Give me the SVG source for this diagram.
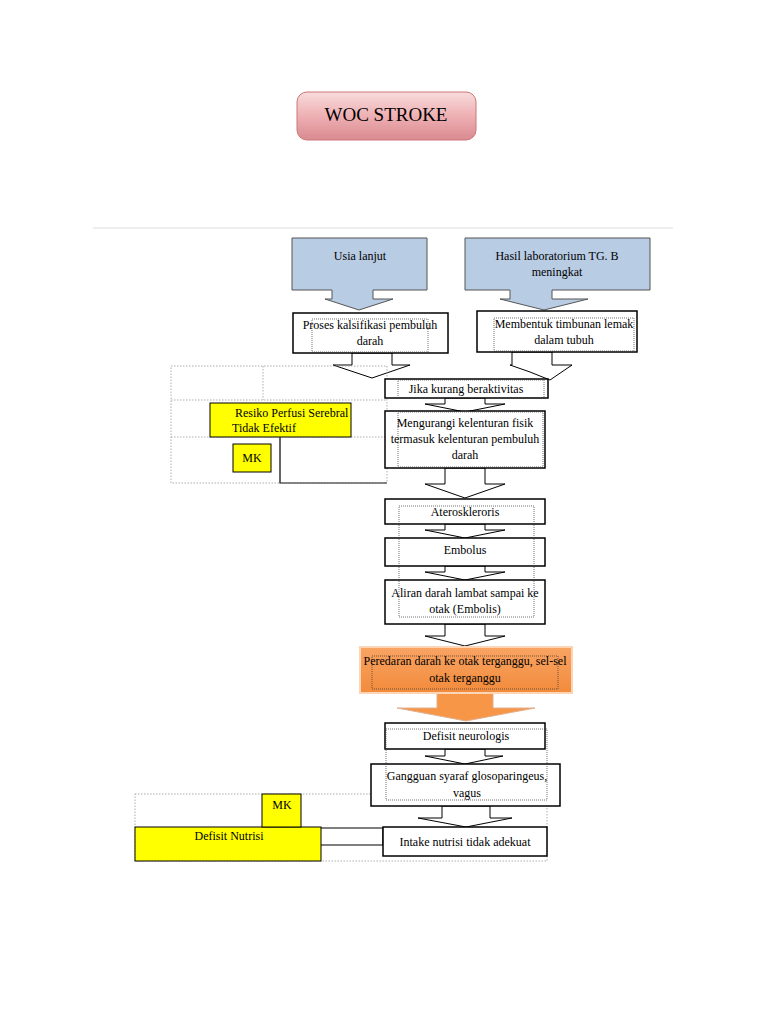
<svg xmlns="http://www.w3.org/2000/svg" width="768" height="1024" viewBox="0 0 768 1024">
<defs>
<linearGradient id="pink" x1="0" y1="0" x2="0" y2="1"><stop offset="0" stop-color="#f8dcdc"/><stop offset="0.5" stop-color="#eeb0b3"/><stop offset="1" stop-color="#d98a90"/></linearGradient>
<linearGradient id="orange" x1="0" y1="0" x2="0" y2="1"><stop offset="0" stop-color="#f9a463"/><stop offset="1" stop-color="#f28b3c"/></linearGradient>
</defs>
<style>
text{font-family:"Liberation Serif",serif;font-size:12px;fill:#000;text-anchor:middle}
.box{fill:#fff;stroke:#000;stroke-width:1.5}
.blue{fill:#b8cce4;stroke:#555;stroke-width:1}
.arr{fill:#fff;stroke:#000;stroke-width:1}
.yel{fill:#ffff00;stroke:#000;stroke-width:1}
.dot{fill:none;stroke:#999;stroke-width:0.8;stroke-dasharray:1.5 1.5}
.tf{fill:none;stroke:#333;stroke-width:0.7;stroke-dasharray:1 1}
</style>
<rect width="768" height="1024" fill="#fff"/>
<g id="title"><rect x="297" y="92" width="179" height="48" rx="10" fill="url(#pink)" stroke="#c77" stroke-width="1"/><text x="386" y="121" style="font-size:19px">WOC STROKE</text></g>
<line x1="93" y1="228" x2="673" y2="228" stroke="#ddd" stroke-width="1"/>
<g id="connectors">
<polygon class="arr" points="352,353 392,353 392,365 410,365 372,378 333,365 352,365"/>
<polygon class="arr" points="512,352 552,352 552,365 572,365 550,380 530,372 510,365 512,365"/>
<polygon class="arr" points="445,398 485,398 485,404 505,404 465,412 425,404 445,404"/>
<polygon class="arr" points="445,468 485,468 485,484 505,484 465,498 425,484 445,484"/>
<polygon class="arr" points="445,524 485,524 485,530 505,530 465,538 425,530 445,530"/>
<polygon class="arr" points="445,566 485,566 485,572 505,572 465,580 425,572 445,572"/>
<polygon class="arr" points="445,624 485,624 485,636 505,636 465,646 425,636 445,636"/>
<polygon points="437,693 493,693 493,708 535,708 466,721 397,708 437,708" fill="#f79646" stroke="#e0b090" stroke-width="1"/>
<polygon class="arr" points="445,749 485,749 485,756 503,756 465,764 425,756 445,756"/>
<polygon class="arr" points="442,806 490,806 490,818 512,818 466,827 418,818 442,818"/>
<polyline points="280,437 280,483 387,483" fill="none" stroke="#000" stroke-width="1.2"/>
<polyline points="321,828 383,828 383,845 321,845" fill="none" stroke="#000" stroke-width="1.2"/>
</g>
<g id="table1"><rect class="dot" x="171" y="366" width="216" height="117"/><line class="dot" x1="171" y1="400" x2="387" y2="400"/><line class="dot" x1="171" y1="437" x2="387" y2="437"/><line class="dot" x1="263" y1="366" x2="263" y2="400"/></g>
<g id="table2"><rect class="dot" x="135" y="794" width="412" height="67"/></g>
<g id="usia"><path class="blue" d="M292,238 H427 V290 H373 V299 H393 L359,310 L325,299 H332 V290 H292 Z"/><text x="360" y="260">Usia lanjut</text></g>
<g id="hasil"><path class="blue" d="M465,238 H650 V290 H552 V299 H588 L544,310 L500,299 H510 V290 H465 Z"/><text x="557" y="260">Hasil laboratorium TG. B</text><text x="557" y="276">meningkat</text></g>
<g id="proses"><rect class="box" x="293" y="313" width="155" height="40"/><rect class="tf" x="312" y="319" width="116" height="33"/><text x="370" y="329">Proses kalsifikasi pembuluh</text><text x="370" y="345">darah</text></g>
<g id="membentuk"><rect class="box" x="477" y="311" width="160" height="41"/><rect class="tf" x="494" y="318" width="140" height="33"/><text x="564" y="328">Membentuk timbunan lemak</text><text x="564" y="344">dalam tubuh</text></g>
<g id="jika"><rect class="box" x="385" y="379" width="163" height="19"/><rect class="tf" x="398" y="380" width="146" height="18"/><text x="466" y="393">Jika kurang beraktivitas</text></g>
<g id="mengurangi"><rect class="box" x="385" y="411" width="160" height="57"/><rect class="tf" x="398" y="412" width="145" height="55"/><text x="465" y="427">Mengurangi  kelenturan fisik</text><text x="465" y="443">termasuk kelenturan pembuluh</text><text x="465" y="459">darah</text></g>
<g id="resiko"><rect class="yel" x="210" y="403" width="141" height="34"/><text x="235" y="417" style="text-anchor:start">Resiko Perfusi Serebral</text><text x="232" y="432" style="text-anchor:start">Tidak Efektif</text></g>
<g id="mk1"><rect class="yel" x="233" y="444" width="38" height="28"/><text x="252" y="462">MK</text></g>
<g id="athero"><rect class="box" x="385" y="499" width="160" height="25"/><text x="465" y="516">Ateroskleroris</text></g>
<g id="embolus"><rect class="box" x="385" y="538" width="160" height="28"/><text x="465" y="554">Embolus</text></g>
<g id="aliran"><rect class="box" x="385" y="580" width="160" height="44"/><text x="465" y="597">Aliran darah lambat sampai ke</text><text x="465" y="613">otak (Embolis)</text></g>
<rect class="tf" x="399" y="506" width="135" height="111"/>
<g id="peredaran"><rect x="360" y="647" width="212" height="46" fill="url(#orange)" stroke="#fbd5b5" stroke-width="2"/><rect class="tf" x="372" y="656" width="186" height="33"/><text x="465" y="665">Peredaran darah ke otak terganggu, sel-sel</text><text x="465" y="682">otak terganggu</text></g>
<g id="defisitneuro"><rect class="box" x="385" y="723" width="160" height="26"/><text x="466" y="740">Defisit neurologis</text></g>
<g id="gangguan"><rect class="box" x="371" y="764" width="189" height="42"/><text x="467" y="780">Gangguan syaraf  glosoparingeus,</text><text x="467" y="797">vagus</text></g>
<rect class="tf" x="386" y="729" width="161" height="71"/>
<g id="intake"><rect class="box" x="383" y="827" width="164" height="29"/><text x="465" y="846">Intake nutrisi tidak adekuat</text></g>
<g id="defisitnutrisi"><rect class="yel" x="135" y="827" width="186" height="34"/><text x="229" y="840">Defisit Nutrisi</text></g>
<g id="mk2"><rect class="yel" x="262" y="794" width="39" height="33"/><text x="282" y="809">MK</text></g>
</svg>
